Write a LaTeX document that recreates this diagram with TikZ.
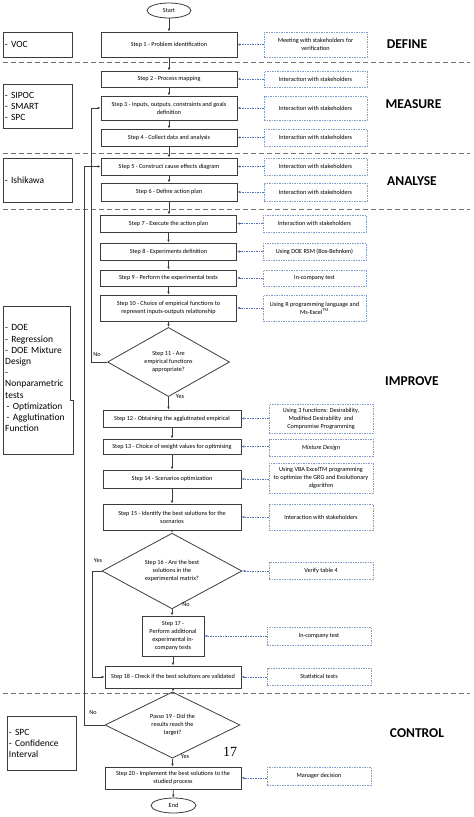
\documentclass[tikz,border=0pt]{standalone}
\usepackage{fontspec}
\setmainfont{Carlito}
\newfontfamily\numfont{Liberation Serif}
\usetikzlibrary{shapes.geometric,arrows.meta}
\definecolor{stakeblue}{RGB}{130,155,200}
\definecolor{arrowblue}{RGB}{80,115,180}
\definecolor{linegray}{RGB}{60,60,60}
\begin{document}
\begin{tikzpicture}[x=1pt,y=-1pt,
  font=\fontsize{6.2}{8}\selectfont,
  stepbox/.style={draw=linegray, line width=0.8pt, fill=white, align=center, inner sep=0pt},
  decbox/.style={diamond, draw=linegray, line width=0.8pt, align=center, inner sep=0pt},
  termbox/.style={ellipse, draw=linegray, line width=0.8pt, inner sep=0pt},
  stakebox/.style={draw=stakeblue, dash pattern=on 1.5pt off 1pt, line width=0.7pt, align=center, inner sep=0pt},
  toolbox/.style={draw=linegray, line width=0.8pt, align=left, inner xsep=2pt, inner ysep=0pt, text width=65pt, minimum width=69pt, font=\fontsize{9.5}{11}\selectfont},
  phase/.style={font=\fontsize{13.5}{15}\selectfont\bfseries, inner sep=0pt},
  flow/.style={-{Latex[length=3pt,width=2.6pt]}, line width=0.7pt, draw=linegray},
  stakearrow/.style={-{Latex[length=3pt,width=2.6pt]}, draw=arrowblue, dash pattern=on 1.5pt off 1pt, line width=0.7pt},
  sep/.style={draw=black!55, line width=0.9pt, dash pattern=on 5pt off 3pt},
  lbl/.style={inner sep=0pt}
]
\useasboundingbox (0,0) rectangle (474,817);

% separators
\coordinate (sepa1) at (3,62);   \coordinate (sepa2) at (470,62);
\coordinate (sepb1) at (3,153);  \coordinate (sepb2) at (470,153);
\coordinate (sepc1) at (3,209);  \coordinate (sepc2) at (470,209);
\coordinate (sepd1) at (3,693);  \coordinate (sepd2) at (470,693);
\draw[sep] (sepa1) -- (sepa2);
\draw[sep] (sepb1) -- (sepb2);
\draw[sep] (sepc1) -- (sepc2);
\draw[sep] (sepd1) -- (sepd2);

% phase labels
\node[phase] (pdef) at (407,44) {DEFINE};
\node[phase] (pmea) at (413.5,104) {MEASURE};
\node[phase] (pana) at (412,181) {ANALYSE};
\node[phase] (pimp) at (412,381) {IMPROVE};
\node[phase] (pcon) at (417,733) {CONTROL};

% tool boxes
\node[toolbox, minimum height=25pt] (tvoc) at (37.5,44.5) {- VOC};
\node[toolbox, minimum height=44pt] (tsip) at (37.5,106) {- SIPOC\\- SMART\\- SPC};
\node[toolbox, minimum height=44pt] (tish) at (37.5,180) {- Ishikawa};
\draw[draw=linegray, line width=0.8pt] (3,306) -| (70.7,400) -| (73,454) -| (3,306);
\node[lbl, anchor=north west, align=left, font=\fontsize{9.5}{11.2}\selectfont, text width=66pt] (tdoe) at (5,324.5)
  {- DOE\\- Regression\\- DOE Mixture\\Design\\-\\Nonparametric\\tests\\\hspace*{1.5pt}- Optimization\\\hspace*{1.5pt}- Agglutination\\Function};
\node[toolbox, minimum height=54pt] (tspc) at (41.5,743) {- SPC\\- Confidence\\Interval};

% flow nodes
\node[termbox, minimum width=44pt, minimum height=15pt] (start) at (169,10.5) {Start};
\node[stepbox, minimum width=136pt, minimum height=25pt] (s1) at (169,44.5) {Step 1 - Problem identification};
\node[stepbox, minimum width=136pt, minimum height=16pt] (s2) at (169,79) {Step 2 - Process mapping};
\node[stepbox, minimum width=136pt, minimum height=24pt] (s3) at (169,108) {Step 3 - Inputs, outputs, constraints and goals\\definition};
\node[stepbox, minimum width=136pt, minimum height=17pt] (s4) at (169,137.5) {Step 4 - Collect data and analysis};
\node[stepbox, minimum width=136pt, minimum height=17pt] (s5) at (169,166.5) {Step 5 - Construct cause effects diagram};
\node[stepbox, minimum width=136pt, minimum height=18pt] (s6) at (169,192) {Step 6 - Define action plan};
\node[stepbox, minimum width=136pt, minimum height=17pt] (s7) at (168.5,223.5) {Step 7 - Execute the action plan};
\node[stepbox, minimum width=136pt, minimum height=17pt] (s8) at (168.5,251.5) {Step 8 - Experiments definition};
\node[stepbox, minimum width=136pt, minimum height=16pt] (s9) at (168.5,278) {Step 9 - Perform the experimental tests};
\node[stepbox, minimum width=136pt, minimum height=26pt] (s10) at (168.5,308) {Step 10 - Choice of empirical functions to\\represent inputs-outputs relationship};
\node[decbox, minimum width=122pt, minimum height=56pt] (d11) at (168.5,362) {Step 11 - Are\\empirical functions\\appropriate?};
\node[stepbox, minimum width=138pt, minimum height=17pt] (s12) at (172,418.5) {Step 12 - Obtaining the agglutinated empirical};
\node[stepbox, minimum width=138pt, minimum height=15pt] (s13) at (172,446.5) {Step 13 - Choice of weight values for optimising};
\node[stepbox, minimum width=138pt, minimum height=18pt] (s14) at (172,479) {Step 14 - Scenarios optimization};
\node[stepbox, minimum width=138pt, minimum height=26pt] (s15) at (172,517) {Step 15 - Identify the best solutions for the\\scenarios};
\node[decbox, minimum width=140pt, minimum height=60pt] (d16) at (172,571) {Step 16 - Are the best\\solutions in the\\experimental matrix?};
\node[stepbox, minimum width=62pt, minimum height=40pt] (s17) at (173,636) {Step 17 -\\Perform additional\\experimental in-\\company tests};
\node[stepbox, minimum width=136pt, minimum height=22pt] (s18) at (173,677) {Step 18 - Check if the best solutions are validated};
\node[decbox, minimum width=135pt, minimum height=56pt] (d19) at (172.5,725) {Passo 19 - Did the\\results reach the\\target?};
\node[stepbox, minimum width=136pt, minimum height=22pt] (s20) at (173,778) {Step 20 - Implement the best solutions to the\\studied process};
\node[termbox, minimum width=45pt, minimum height=15pt] (end) at (173.5,805.5) {End};

% stakeholder boxes
\node[stakebox, minimum width=103pt, minimum height=25pt] (k1) at (315.5,44.5) {Meeting with stakeholders for\\verification};
\node[stakebox, minimum width=103pt, minimum height=16pt] (k2) at (315.5,79) {Interaction with stakeholders};
\node[stakebox, minimum width=103pt, minimum height=24pt] (k3) at (315.5,108) {Interaction with stakeholders};
\node[stakebox, minimum width=103pt, minimum height=17pt] (k4) at (315.5,137.5) {Interaction with stakeholders};
\node[stakebox, minimum width=103pt, minimum height=17pt] (k5) at (315.5,166.5) {Interaction with stakeholders};
\node[stakebox, minimum width=103pt, minimum height=18pt] (k6) at (315.5,192) {Interaction with stakeholders};
\node[stakebox, minimum width=103pt, minimum height=17pt] (k7) at (314.5,223.5) {Interaction with stakeholders};
\node[stakebox, minimum width=103pt, minimum height=17pt] (k8) at (314.5,251.5) {Using DOE RSM (Box-Behnken)};
\node[stakebox, minimum width=103pt, minimum height=16pt] (k9) at (314.5,278) {In-company test};
\node[stakebox, minimum width=103pt, minimum height=26pt] (k10) at (314.5,308) {Using R programming language and\\Ms-Excel\textsuperscript{TM}};
\node[stakebox, minimum width=104pt, minimum height=29pt] (k12) at (321,418.5) {Using 3 functions: Desirability,\\Modified Desirability\ \ and\\Compromise Programming};
\node[stakebox, minimum width=104pt, minimum height=17pt] (k13) at (321,447.5) {\itshape Mixture Design};
\node[stakebox, minimum width=104pt, minimum height=30pt] (k14) at (321,478) {Using VBA ExcelTM programming\\to optimize the GRG and Evolutionary\\algorithm};
\node[stakebox, minimum width=104pt, minimum height=26pt] (k15) at (321,517) {Interaction with stakeholders};
\node[stakebox, minimum width=104pt, minimum height=17pt] (k16) at (321,570.5) {Verify table 4};
\node[stakebox, minimum width=104pt, minimum height=18pt] (k17) at (319,636) {In-company test};
\node[stakebox, minimum width=104pt, minimum height=17pt] (k18) at (319,676.5) {Statistical tests};
\node[stakebox, minimum width=104pt, minimum height=18pt] (k20) at (319,776) {Manager decision};

% main flow
\draw[flow] (start) -- (s1);
\draw[flow] (s1) -- (s2);
\draw[flow] (s2) -- (s3);
\draw[flow] (s3) -- (s4);
\draw[flow] (s4) -- (s5);
\draw[flow] (s5) -- (s6);
\draw[flow] (s6.south) -- (s6.south |- s7.north);
\draw[flow] (s7) -- (s8);
\draw[flow] (s8) -- (s9);
\draw[flow] (s9) -- (s10);
\draw[flow] (s10) -- (d11);
\draw[flow] (d11.south) -- (d11.south |- s12.north);
\draw[flow] (s12) -- (s13);
\draw[flow] (s13) -- (s14);
\draw[flow] (s14) -- (s15);
\draw[flow] (s15) -- (d16);
\draw[flow] (d16.south) -- (d16.south |- s17.north);
\draw[flow] (s17) -- (s18);
\draw[flow] (s18.south) -- (s18.south |- d19.north);
\draw[flow] (d19.south) -- (d19.south |- s20.north);
\draw[flow] (s20) -- (end);

% feedback loops
\coordinate (fa) at (91,108);
\coordinate (fb) at (84,166.5);
\coordinate (fc) at (92,677);
\draw[flow] (d11.west) -| (fa) -- (s3.west);
\draw[flow] (d19.west) -| (fb) -- (s5.west);
\draw[flow] (d16.west) -| (fc) -- (s18.west);

% labels
\node[lbl] (lno11) at (97,355) {No};
\node[lbl] (lyes11) at (180,397) {Yes};
\node[lbl] (lyes16) at (98,561) {Yes};
\node[lbl] (lno16) at (186,605) {No};
\node[lbl] (lno19) at (93,713) {No};
\node[lbl] (lyes19) at (185,757) {Yes};
\node[lbl, font=\numfont\fontsize{14}{14}\selectfont] (pgnum) at (230,752) {17};

% stakeholder arrows
\foreach \i in {1,2,3,4,5,6,7,8,9,10,12,13,14,15,17,18,20}{
  \draw[stakearrow] (k\i.west |- s\i.east) -- (s\i.east);
}
\draw[stakearrow] (k16.west |- d16.east) -- (d16.east);
\end{tikzpicture}
\end{document}
